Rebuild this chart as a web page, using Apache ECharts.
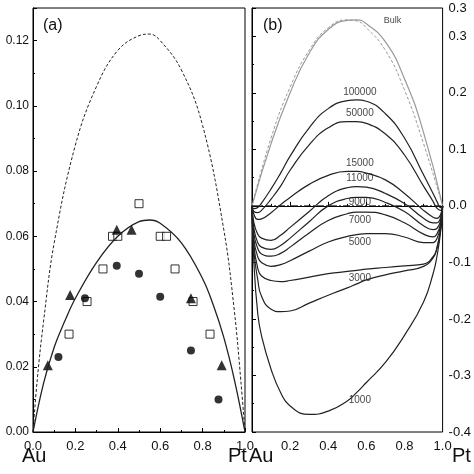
<!DOCTYPE html>
<html>
<head>
<meta charset="utf-8">
<script src="https://cdn.jsdelivr.net/npm/echarts@6/dist/echarts.min.js"></script>
<style>html,body{margin:0;padding:0;background:#fff}#c{width:474px;height:474px}</style>
</head>
<body>
<div id="c"></div>
<script>
// panel (a)
var dashA = [[0,0],[0.02,0.016],[0.05,0.034],[0.1,0.058],[0.2,0.088],[0.3,0.106],[0.4,0.117],[0.5,0.1215],[0.55,0.122],[0.6,0.12],[0.7,0.111],[0.8,0.094],[0.9,0.062],[0.95,0.037],[0.98,0.016],[1,0]];
var solidA = [[0,0],[0.05,0.015],[0.1,0.026],[0.15,0.034],[0.2,0.041],[0.3,0.052],[0.4,0.06],[0.5,0.0645],[0.55,0.065],[0.6,0.064],[0.7,0.058],[0.8,0.047],[0.85,0.039],[0.9,0.029],[0.95,0.016],[1,0]];
var squares = [[0.17,0.03],[0.255,0.04],[0.33,0.05],[0.375,0.06],[0.4,0.06],[0.5,0.07],[0.6,0.06],[0.63,0.06],[0.67,0.05],[0.755,0.04],[0.835,0.03]];
var triangles = [[0.07,0.0205],[0.175,0.042],[0.395,0.062],[0.465,0.062],[0.745,0.041],[0.89,0.0205]];
var circles = [[0.12,0.023],[0.245,0.041],[0.395,0.051],[0.5,0.0485],[0.6,0.0415],[0.745,0.025],[0.875,0.01]];

// panel (b)
var bulkX = [0,0.1,0.2,0.3,0.4,0.5,0.55,0.6,0.7,0.8,0.9,1];
var bulkSolid = [0,0.11,0.2,0.27,0.312,0.328,0.329,0.322,0.29,0.225,0.13,0];
var bulkDash = [0,0.12,0.21,0.275,0.315,0.329,0.327,0.315,0.275,0.205,0.11,0];
var xs = [0,0.01,0.03,0.05,0.1,0.15,0.2,0.3,0.4,0.5,0.55,0.6,0.7,0.8,0.9,0.95,0.97,0.99,1];
var sizeNames = ['100000','50000','15000','11000','9000','7000','5000','3000','','1000'];
var sizeCurves = [
  [0,-0.005,-0.003,0.005,0.03,0.058,0.088,0.138,0.172,0.186,0.1875,0.185,0.163,0.12,0.055,0.022,0.008,-0.003,0],
  [0,-0.01,-0.012,-0.008,0.012,0.035,0.063,0.108,0.138,0.149,0.149,0.146,0.127,0.09,0.035,0.008,-0.004,-0.008,0],
  [0,-0.015,-0.024,-0.023,-0.012,0.002,0.015,0.038,0.054,0.061,0.061,0.058,0.046,0.022,-0.008,-0.02,-0.022,-0.015,0],
  [0,-0.03,-0.05,-0.057,-0.061,-0.052,-0.038,-0.01,0.018,0.032,0.034,0.033,0.022,0.004,-0.022,-0.03,-0.03,-0.02,0],
  [0,-0.04,-0.065,-0.073,-0.077,-0.07,-0.057,-0.028,0,0.013,0.015,0.015,0.006,-0.01,-0.035,-0.042,-0.04,-0.025,0],
  [0,-0.05,-0.075,-0.085,-0.089,-0.084,-0.073,-0.048,-0.026,-0.014,-0.011,-0.011,-0.016,-0.03,-0.05,-0.055,-0.05,-0.03,0],
  [0,-0.06,-0.09,-0.1,-0.107,-0.104,-0.097,-0.08,-0.064,-0.054,-0.051,-0.049,-0.049,-0.055,-0.065,-0.065,-0.058,-0.035,0],
  [0,-0.07,-0.11,-0.124,-0.132,-0.134,-0.132,-0.126,-0.12,-0.116,-0.114,-0.112,-0.109,-0.106,-0.103,-0.09,-0.075,-0.04,0],
  [0,-0.08,-0.13,-0.16,-0.183,-0.187,-0.186,-0.172,-0.158,-0.145,-0.138,-0.131,-0.122,-0.115,-0.107,-0.092,-0.075,-0.04,0],
  [0,-0.1,-0.19,-0.23,-0.289,-0.33,-0.354,-0.369,-0.363,-0.345,-0.33,-0.3125,-0.277,-0.229,-0.17,-0.12,-0.09,-0.045,0]
];
// label placement: above the upper curves, below the lower ones
var labelPos = ['top','top','top','top','inside','bottom','bottom','bottom','','bottom'];

var chart = echarts.init(document.getElementById('c'));
var F = 'Liberation Sans, Arial, sans-serif';
function pairs(x, y) { return x.map(function (v, i) { return [v, y[i]]; }); }

var series = [
  {type:'line', xAxisIndex:0, yAxisIndex:0, data:dashA, smooth:0.4, showSymbol:false,
   lineStyle:{color:'#222', width:1, type:[3,2]}},
  {type:'line', xAxisIndex:0, yAxisIndex:0, data:solidA, smooth:0.4, showSymbol:false,
   lineStyle:{color:'#222', width:1.3}},
  {type:'scatter', xAxisIndex:0, yAxisIndex:0, data:squares, symbol:'rect', symbolSize:8,
   itemStyle:{color:'#fff', borderColor:'#000', borderWidth:1}},
  {type:'scatter', xAxisIndex:0, yAxisIndex:0, data:triangles, symbol:'triangle', symbolSize:10,
   itemStyle:{color:'#000'}},
  {type:'scatter', xAxisIndex:0, yAxisIndex:0, data:circles, symbol:'circle', symbolSize:8,
   itemStyle:{color:'#000'}},
  {type:'line', xAxisIndex:1, yAxisIndex:1, data:pairs(bulkX, bulkDash), smooth:true, showSymbol:false,
   lineStyle:{color:'#999', width:1, type:[3,2]}},
  {type:'line', xAxisIndex:1, yAxisIndex:1, smooth:true, showSymbol:false,
   data:pairs(bulkX, bulkSolid), lineStyle:{color:'#999', width:1.2}},
  // Bulk label
  {type:'scatter', xAxisIndex:1, yAxisIndex:1, symbolSize:0, silent:true,
   data:[[bulkX[6], bulkSolid[6]]],
   label:{show:true, formatter:'Bulk', position:'right', offset:[22,1], fontSize:9, fontFamily:F, color:'#111'}},
  {type:'line', xAxisIndex:1, yAxisIndex:1, data:[[0,0],[1,0]], showSymbol:false,
   lineStyle:{color:'#111', width:1, type:[7,2,2,2]}}
];
sizeCurves.forEach(function (ys, k) {
  series.push({type:'line', xAxisIndex:1, yAxisIndex:1, smooth:true, showSymbol:false,
    lineStyle:{color:'#222', width:1.2}, data: pairs(xs, ys)});
  if (sizeNames[k]) {
    series.push({type:'scatter', xAxisIndex:1, yAxisIndex:1, symbolSize:0, silent:true,
      data:[[xs[10], ys[10]]],
      label:{show:true, formatter:sizeNames[k], position:labelPos[k], distance:3,
        offset: labelPos[k] === 'inside' ? [3,5] : [3,0],
        fontSize:10, fontFamily:F, color:'#111'}});
  }
});

var axisLine = {show:true, lineStyle:{color:'#000', width:1}};
chart.setOption({
  animation:false,
  grid:[{left:33, top:8, width:212, height:424, show:true, borderColor:'#000', borderWidth:1},
        {left:252, top:8, width:211, height:424, show:true, borderColor:'#000', borderWidth:1}],
  xAxis:[
    {type:'value', gridIndex:0, min:0, max:1, interval:0.2, axisLine:axisLine,
     axisTick:{inside:true, length:4, lineStyle:{color:'#000'}}, minorTick:{show:true, splitNumber:2, length:2, lineStyle:{color:'#000'}},
     splitLine:{show:false}, axisLabel:{fontSize:13, fontFamily:F, color:'#111', formatter:function(v){return v.toFixed(1);}}},
    {type:'value', gridIndex:1, min:0, max:1, interval:0.2, axisLine:axisLine,
     axisTick:{inside:true, length:4, lineStyle:{color:'#000'}}, minorTick:{show:true, splitNumber:2, length:2, lineStyle:{color:'#000'}},
     splitLine:{show:false}, axisLabel:{fontSize:13, fontFamily:F, color:'#111', formatter:function(v){return v === 0 ? '' : v.toFixed(1);}}}
  ],
  yAxis:[
    {type:'value', gridIndex:0, min:0, max:0.13, interval:0.02, axisLine:axisLine,
     axisTick:{inside:true, length:4, lineStyle:{color:'#000'}}, minorTick:{show:true, splitNumber:2, length:2, lineStyle:{color:'#000'}},
     splitLine:{show:false}, axisLabel:{fontSize:12, fontFamily:F, color:'#111', margin:4, showMaxLabel:false, formatter:function(v){return v.toFixed(2);}}},
    {type:'value', gridIndex:1, position:'right', min:-0.4, max:0.35, interval:0.1, axisLine:axisLine,
     axisTick:{inside:false, length:4, lineStyle:{color:'#000'}}, minorTick:{show:true, splitNumber:2, length:2, lineStyle:{color:'#000'}},
     splitLine:{show:false}, axisLabel:{fontSize:13, fontFamily:F, color:'#111', margin:6, formatter:function(v){return v.toFixed(1);}}}
  ],
  graphic:[
    {type:'text', left:43, top:18, style:{text:'(a)', font:'16px ' + F, fill:'#111'}},
    {type:'text', left:263, top:18, style:{text:'(b)', font:'16px ' + F, fill:'#111'}},
    {type:'text', left:22, top:446, style:{text:'Au', font:'20px ' + F, fill:'#111'}},
    {type:'text', left:228, top:446, style:{text:'Pt', font:'20px ' + F, fill:'#111'}},
    {type:'text', left:249, top:446, style:{text:'Au', font:'20px ' + F, fill:'#111'}},
    {type:'text', left:452, top:446, style:{text:'Pt', font:'20px ' + F, fill:'#111'}}
  ],
  series:series
});
</script>
</body>
</html>
